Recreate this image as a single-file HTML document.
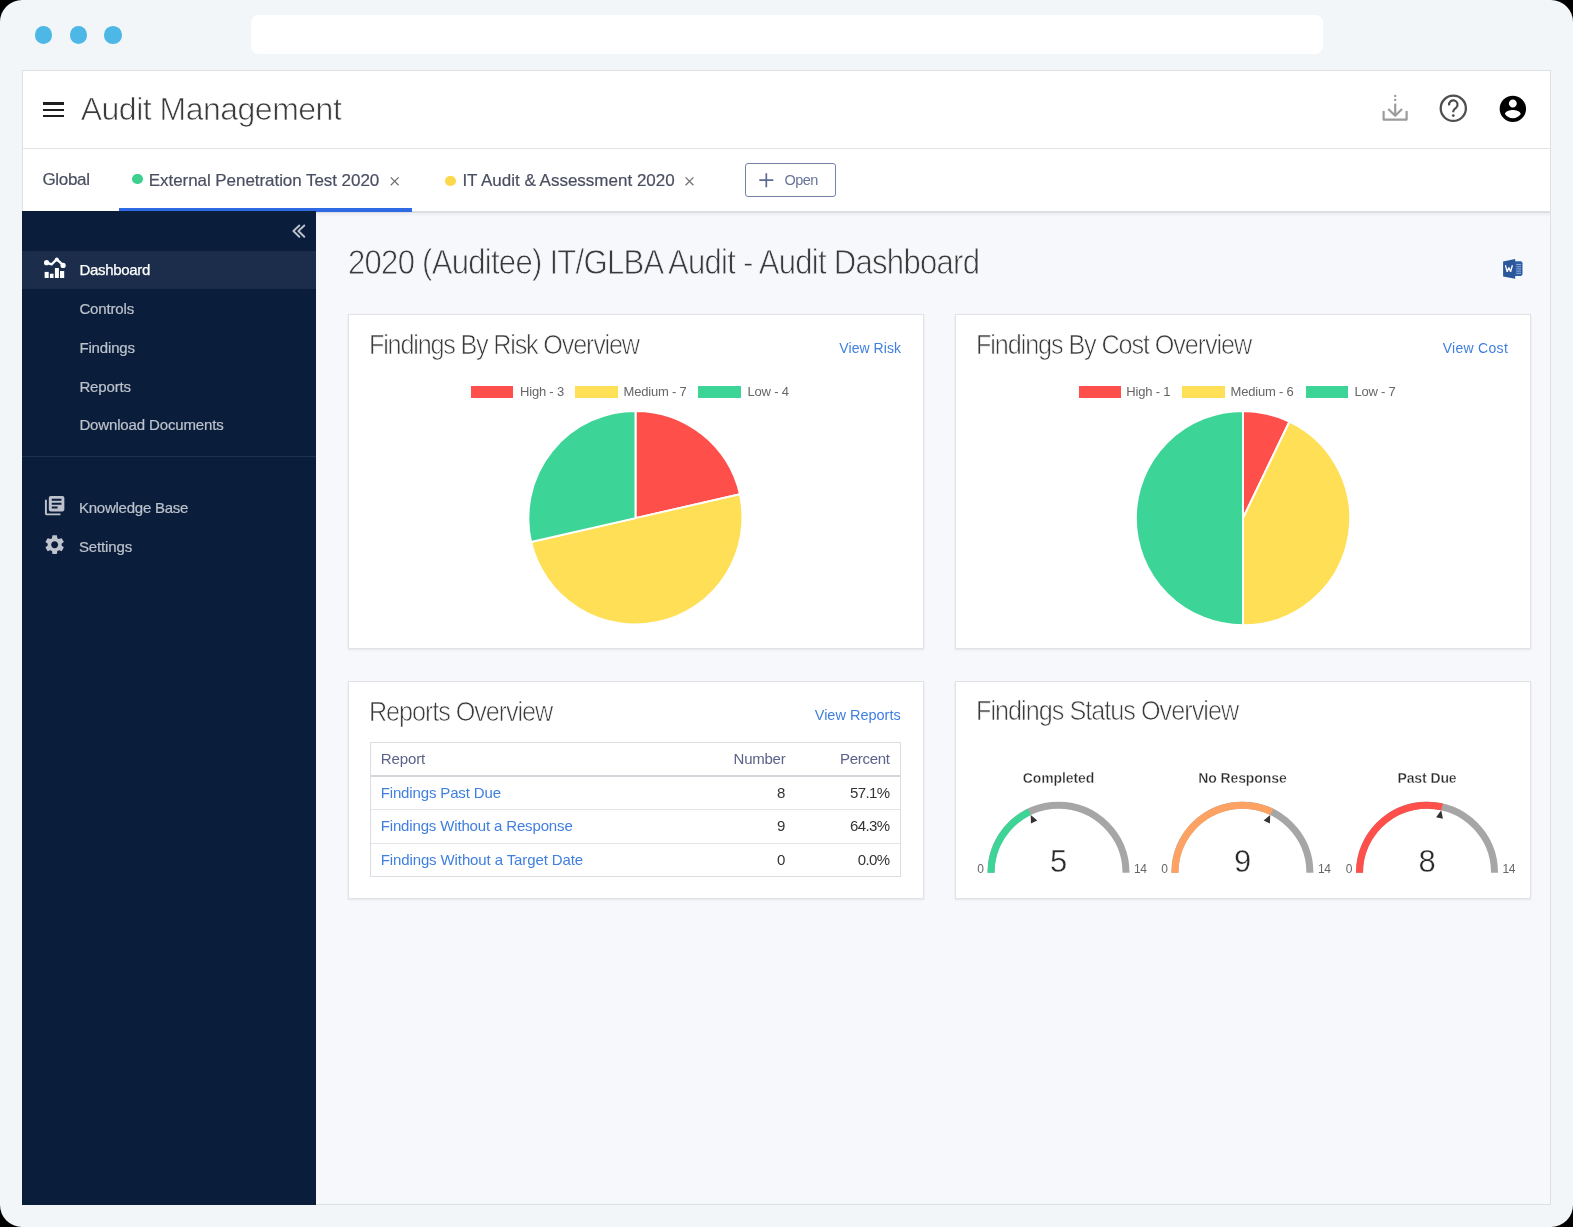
<!DOCTYPE html>
<html><head><meta charset="utf-8"><style>
*{box-sizing:border-box;margin:0;padding:0}
html,body{width:1573px;height:1227px;overflow:hidden;background:#000;font-family:"Liberation Sans",sans-serif}
.abs{position:absolute}
.t{position:absolute;white-space:nowrap;line-height:1}
svg{position:absolute;overflow:visible}
</style></head><body><div style="position:absolute;left:0;top:0;width:1573px;height:1227px;will-change:transform">
<div class="abs" style="left:0px;top:0px;width:1573px;height:1227px;background:#f2f6f9;border-radius:22px;"></div>
<div class="abs" style="left:34.7px;top:26.0px;width:17.6px;height:17.6px;border-radius:50%;background:#4db8e5"></div>
<div class="abs" style="left:69.5px;top:26.0px;width:17.6px;height:17.6px;border-radius:50%;background:#4db8e5"></div>
<div class="abs" style="left:104.4px;top:26.0px;width:17.6px;height:17.6px;border-radius:50%;background:#4db8e5"></div>
<div class="abs" style="left:250.5px;top:15.3px;width:1072px;height:38.6px;background:#fff;border-radius:8px;"></div>
<div class="abs" style="left:22px;top:70px;width:1529px;height:1135px;background:#f6f8fb;border:1px solid #dfe0e2;"></div>
<div class="abs" style="left:23px;top:71px;width:1527px;height:77px;background:#fff;"></div>
<div class="abs" style="left:23px;top:148px;width:1527px;height:1px;background:#e4e4e4;"></div>
<div class="abs" style="left:23px;top:149px;width:1527px;height:62px;background:#fff;"></div>
<div class="abs" style="left:23px;top:211px;width:1527px;height:1px;background:#e4e6ea;"></div>
<div class="abs" style="left:43.3px;top:102.4px;width:20.7px;height:2.2px;background:#1f1f1f;"></div>
<div class="abs" style="left:43.3px;top:108.60000000000001px;width:20.7px;height:2.2px;background:#1f1f1f;"></div>
<div class="abs" style="left:43.3px;top:114.9px;width:20.7px;height:2.2px;background:#1f1f1f;"></div>
<div class="t" style="top:92.90px;font-size:32px;color:#3a3a3a;font-weight:400;letter-spacing:-0.5px;left:80.70px;-webkit-text-stroke:0.7px #fff;">Audit Management</div>
<svg style="left:0;top:0" width="1573" height="1227" viewBox="0 0 1573 1227">
<g fill="none" stroke="#9b9b9b" stroke-width="2.2" stroke-linejoin="round">
<path d="M1383.6 110.9V119.6H1406.6V110.9"/>
<path d="M1395.2 103.6V115.5"/>
<path d="M1388.3 109L1395.2 115.8L1402 109"/>
</g>
<circle cx="1395.2" cy="95.9" r="1.2" fill="#9b9b9b"/>
<circle cx="1395.2" cy="99.9" r="1.2" fill="#9b9b9b"/>
<circle cx="1453.3" cy="108.3" r="12.6" fill="none" stroke="#4f4f4f" stroke-width="2.3"/>
</svg>
<svg style="left:0;top:0" width="1" height="1"><path d="M1449.1 105.3A4.25 4.25 0 1 1 1456.3 107.6L1454.4 109.3Q1453.3 110.3 1453.3 111.6V112.2" fill="none" stroke="#4a4a4a" stroke-width="2.1"/><circle cx="1453.3" cy="115.6" r="1.35" fill="#4a4a4a"/></svg>
<svg style="left:1497px;top:92.5px" width="31.7" height="31.7" viewBox="0 0 24 24"><path fill="#000" d="M12 2C6.48 2 2 6.48 2 12s4.48 10 10 10 10-4.48 10-10S17.52 2 12 2zm0 3c1.66 0 3 1.34 3 3s-1.34 3-3 3-3-1.34-3-3 1.34-3 3-3zm0 14.2c-2.5 0-4.71-1.28-6-3.22.03-1.99 4-3.08 6-3.08 1.99 0 5.97 1.09 6 3.08-1.29 1.94-3.5 3.22-6 3.22z"/></svg>
<div class="t" style="top:171.15px;font-size:17px;color:#4a4e61;font-weight:400;letter-spacing:-0.3px;left:42.40px;-webkit-text-stroke:0.2px #4a4e61;">Global</div>
<div class="abs" style="left:132.3px;top:173.7px;width:10.6px;height:10.6px;border-radius:50%;background:#3ccf8e"></div>
<div class="t" style="top:172.05px;font-size:17px;color:#4a4e61;font-weight:400;letter-spacing:-0.06px;left:148.80px;-webkit-text-stroke:0.2px #4a4e61;">External Penetration Test 2020</div>
<svg style="left:0;top:0" width="1" height="1"><path d="M390.8 177.4L398.6 185.2M398.6 177.4L390.8 185.2" stroke="#707070" stroke-width="1.25"/></svg>
<div class="abs" style="left:119px;top:208px;width:293px;height:3.4px;background:#2d6ae3;"></div>
<div class="abs" style="left:445.3px;top:175.6px;width:10.6px;height:10.6px;border-radius:50%;background:#fcd94a"></div>
<div class="t" style="top:172.05px;font-size:17px;color:#4a4e61;font-weight:400;left:462.40px;-webkit-text-stroke:0.2px #4a4e61;">IT Audit &amp; Assessment 2020</div>
<svg style="left:0;top:0" width="1" height="1"><path d="M685.6 177.4L693.4 185.2M693.4 177.4L685.6 185.2" stroke="#707070" stroke-width="1.25"/></svg>
<div class="abs" style="left:744.6px;top:162.7px;width:91.2px;height:34px;background:#fff;border:1.4px solid #7580a6;border-radius:3px;"></div>
<svg style="left:0;top:0" width="1" height="1"><path d="M766.3 173.2V187.3M759.3 180.2H773.3" stroke="#5f6a94" stroke-width="1.7" fill="none"/></svg>
<div class="t" style="top:172.88px;font-size:14.5px;color:#68739c;font-weight:400;letter-spacing:-0.5px;left:784.40px;">Open</div>
<div class="abs" style="left:22px;top:211px;width:294px;height:994px;background:#0a1e3b;"></div>
<div class="abs" style="left:316px;top:211px;width:1234px;height:2px;background:#dcdee3;"></div>
<div class="abs" style="left:316px;top:213px;width:1234px;height:4px;background:linear-gradient(#eceef2,#f6f8fb);"></div>
<div class="abs" style="left:316px;top:208px;width:96px;height:3.5px;background:#2d6ae3;"></div>
<div class="abs" style="left:22px;top:251px;width:294px;height:38px;background:#1b2d4b;"></div>
<div class="abs" style="left:22px;top:455.5px;width:294px;height:1.2px;background:#1d3150;"></div>
<svg style="left:0;top:0" width="1" height="1"><path d="M299.3 225.5L293.4 231L299.3 236.8M304.3 225.5L298.4 231L304.3 236.8" stroke="#bcc2ce" stroke-width="1.9" fill="none" stroke-linecap="round" stroke-linejoin="round"/></svg>
<svg style="left:0;top:0" width="1" height="1">
<path d="M46.45 262.7L51.6 264.4L56.8 259.3L63.1 265.2" stroke="#fff" stroke-width="2.3" fill="none" stroke-linejoin="round"/>
<circle cx="46.6" cy="262.7" r="2.6" fill="#fff"/><circle cx="56.8" cy="259.6" r="2" fill="#fff"/><circle cx="63.1" cy="265.4" r="2.6" fill="#fff"/>
<rect x="44.65" y="271.9" width="4.05" height="6.1" fill="#fff"/>
<rect x="49.9" y="273.7" width="3.6" height="4.3" fill="#fff"/>
<rect x="54.9" y="268" width="4" height="10" fill="#fff"/>
<rect x="60" y="271" width="4.2" height="7" fill="#fff"/>
</svg>
<div class="t" style="top:261.95px;font-size:15px;color:#fff;font-weight:400;letter-spacing:-0.3px;left:79.40px;-webkit-text-stroke:0.25px #fff;">Dashboard</div>
<div class="t" style="top:300.85px;font-size:15px;color:#bdc2cc;font-weight:400;letter-spacing:-0.15px;left:79.40px;-webkit-text-stroke:0.2px #bdc2cc;">Controls</div>
<div class="t" style="top:340.05px;font-size:15px;color:#bdc2cc;font-weight:400;letter-spacing:-0.15px;left:79.40px;-webkit-text-stroke:0.2px #bdc2cc;">Findings</div>
<div class="t" style="top:378.75px;font-size:15px;color:#bdc2cc;font-weight:400;letter-spacing:-0.15px;left:79.40px;-webkit-text-stroke:0.2px #bdc2cc;">Reports</div>
<div class="t" style="top:417.45px;font-size:15px;color:#bdc2cc;font-weight:400;letter-spacing:-0.14px;left:79.40px;-webkit-text-stroke:0.2px #bdc2cc;">Download Documents</div>
<svg style="left:43.06px;top:493.76px" width="23.3" height="23.3" viewBox="0 0 24 24"><path fill="#bdc2cc" d="M4 6H2v14c0 1.1.9 2 2 2h14v-2H4V6zm16-4H8c-1.1 0-2 .9-2 2v12c0 1.1.9 2 2 2h12c1.1 0 2-.9 2-2V4c0-1.1-.9-2-2-2zm-1 9H9V9h10v2zm-4 4H9v-2h6v2zm4-8H9V5h10v2z"/></svg>
<div class="t" style="top:499.75px;font-size:15px;color:#bdc2cc;font-weight:400;letter-spacing:-0.25px;left:79.00px;-webkit-text-stroke:0.2px #bdc2cc;">Knowledge Base</div>
<svg style="left:43.16px;top:532.9px" width="23.3" height="23.3" viewBox="0 0 24 24"><path fill="#bdc2cc" d="M19.14 12.94c.04-.3.06-.61.06-.94 0-.32-.02-.64-.07-.94l2.03-1.58c.18-.14.23-.41.12-.61l-1.92-3.32c-.12-.22-.37-.29-.59-.22l-2.39.96c-.5-.38-1.03-.7-1.62-.94l-.36-2.54c-.04-.24-.24-.41-.48-.41h-3.84c-.24 0-.43.17-.47.41l-.36 2.54c-.59.24-1.130.57-1.62.94l-2.39-.96c-.22-.08-.47 0-.59.22L2.74 8.87c-.12.21-.08.47.12.61l2.03 1.58c-.05.3-.09.63-.09.94s.02.64.07.94l-2.03 1.58c-.18.14-.23.41-.12.61l1.92 3.32c.12.22.37.29.59.22l2.39-.96c.5.38 1.03.7 1.62.94l.36 2.54c.05.24.24.41.48.41h3.84c.24 0 .44-.17.47-.41l.36-2.54c.59-.24 1.13-.56 1.62-.94l2.39.96c.22.08.47 0 .59-.22l1.92-3.32c.12-.22.07-.47-.12-.61l-2.01-1.58zM12 15.6c-1.98 0-3.6-1.62-3.6-3.6s1.62-3.6 3.6-3.6 3.6 1.62 3.6 3.6-1.62 3.6-3.6 3.6z"/></svg>
<div class="t" style="top:538.65px;font-size:15px;color:#bdc2cc;font-weight:400;letter-spacing:-0.15px;left:79.00px;-webkit-text-stroke:0.2px #bdc2cc;">Settings</div>
<div class="t" style="top:245.28px;font-size:34.5px;color:#3a3a3a;font-weight:400;letter-spacing:-0.805px;transform:scaleX(0.9);transform-origin:left top;left:348.20px;-webkit-text-stroke:0.8px #f6f8fb;">2020 (Auditee) IT/GLBA Audit - Audit Dashboard</div>
<svg style="left:0;top:0" width="1" height="1">
<path d="M1515 261.3H1520.5Q1522.5 261.3 1522.5 263.3V273.9Q1522.5 275.9 1520.5 275.9H1515Z" fill="#2f5fa8"/>
<path d="M1516.3 264.5H1521M1516.3 266.7H1521M1516.3 268.9H1521M1516.3 271.1H1521M1516.3 273.3H1521" stroke="#9fb6dd" stroke-width="0.9"/>
<path d="M1503.1 261.4L1515.2 258.9V278.8L1503.1 276.4Z" fill="#2b579a"/>
<path d="M1505.4 265.3L1507.2 271.7L1508.9 267.6L1510.6 271.7L1512.4 265.3" stroke="#fff" stroke-width="1.3" fill="none" stroke-linejoin="bevel"/>
</svg>
<div class="abs" style="left:348px;top:314px;width:576px;height:335px;background:#fff;border:1px solid #e0e2e6;box-shadow:0 1px 2px rgba(0,0,0,0.08);"></div>
<div class="t" style="top:330.60px;font-size:28px;color:#3a3a3a;font-weight:400;letter-spacing:-1.329px;transform:scaleX(0.9);transform-origin:left top;left:368.90px;-webkit-text-stroke:0.7px #fff;">Findings By Risk Overview</div>
<div class="t" style="top:341.10px;font-size:14px;color:#3f7fe0;font-weight:400;letter-spacing:0.05px;left:-99.00px;width:1000px;text-align:right;">View Risk</div>
<div class="abs" style="left:470.8px;top:386px;width:42.3px;height:12.2px;background:#fe4f4b;"></div>
<div class="t" style="top:385.45px;font-size:13px;color:#666;font-weight:400;letter-spacing:-0.2px;left:520.00px;">High - 3</div>
<div class="abs" style="left:575.3px;top:386px;width:42.3px;height:12.2px;background:#fedf55;"></div>
<div class="t" style="top:385.45px;font-size:13px;color:#666;font-weight:400;letter-spacing:-0.2px;left:623.50px;">Medium - 7</div>
<div class="abs" style="left:698.3px;top:386px;width:42.3px;height:12.2px;background:#3dd497;"></div>
<div class="t" style="top:385.45px;font-size:13px;color:#666;font-weight:400;letter-spacing:-0.2px;left:747.50px;">Low - 4</div>
<svg style="left:0;top:0" width="1" height="1"><path d="M635.5 518.1L635.50 410.90A107.2 107.2 0 0 1 740.01 494.25Z" fill="#fe4f4b" stroke="#fff" stroke-width="2" stroke-linejoin="round"/><path d="M635.5 518.1L740.01 494.25A107.2 107.2 0 0 1 530.99 541.95Z" fill="#fedf55" stroke="#fff" stroke-width="2" stroke-linejoin="round"/><path d="M635.5 518.1L530.99 541.95A107.2 107.2 0 0 1 635.50 410.90Z" fill="#3dd497" stroke="#fff" stroke-width="2" stroke-linejoin="round"/></svg>
<div class="abs" style="left:955px;top:314px;width:576px;height:335px;background:#fff;border:1px solid #e0e2e6;box-shadow:0 1px 2px rgba(0,0,0,0.08);"></div>
<div class="t" style="top:330.60px;font-size:28px;color:#3a3a3a;font-weight:400;letter-spacing:-1.218px;transform:scaleX(0.9);transform-origin:left top;left:976.10px;-webkit-text-stroke:0.7px #fff;">Findings By Cost Overview</div>
<div class="t" style="top:341.10px;font-size:14px;color:#3f7fe0;font-weight:400;letter-spacing:0.3px;left:508.10px;width:1000px;text-align:right;">View Cost</div>
<div class="abs" style="left:1078.6px;top:386px;width:42.3px;height:12.2px;background:#fe4f4b;"></div>
<div class="t" style="top:385.45px;font-size:13px;color:#666;font-weight:400;letter-spacing:-0.2px;left:1126.30px;">High - 1</div>
<div class="abs" style="left:1182.4px;top:386px;width:42.3px;height:12.2px;background:#fedf55;"></div>
<div class="t" style="top:385.45px;font-size:13px;color:#666;font-weight:400;letter-spacing:-0.2px;left:1230.60px;">Medium - 6</div>
<div class="abs" style="left:1305.8px;top:386px;width:42.3px;height:12.2px;background:#3dd497;"></div>
<div class="t" style="top:385.45px;font-size:13px;color:#666;font-weight:400;letter-spacing:-0.2px;left:1354.40px;">Low - 7</div>
<svg style="left:0;top:0" width="1" height="1"><path d="M1243 518.1L1243.00 410.90A107.2 107.2 0 0 1 1289.51 421.52Z" fill="#fe4f4b" stroke="#fff" stroke-width="2" stroke-linejoin="round"/><path d="M1243 518.1L1289.51 421.52A107.2 107.2 0 0 1 1243.00 625.30Z" fill="#fedf55" stroke="#fff" stroke-width="2" stroke-linejoin="round"/><path d="M1243 518.1L1243.00 625.30A107.2 107.2 0 0 1 1243.00 410.90Z" fill="#3dd497" stroke="#fff" stroke-width="2" stroke-linejoin="round"/></svg>
<div class="abs" style="left:348px;top:681px;width:576px;height:218px;background:#fff;border:1px solid #e0e2e6;box-shadow:0 1px 2px rgba(0,0,0,0.08);"></div>
<div class="t" style="top:697.70px;font-size:28px;color:#3a3a3a;font-weight:400;letter-spacing:-1.193px;transform:scaleX(0.9);transform-origin:left top;left:368.50px;-webkit-text-stroke:0.7px #fff;">Reports Overview</div>
<div class="t" style="top:708.07px;font-size:14.5px;color:#3f7fe0;font-weight:400;left:-99.30px;width:1000px;text-align:right;">View Reports</div>
<div class="abs" style="left:370px;top:742px;width:531px;height:135px;background:#fff;border:1px solid #dcdde3;"></div>
<div class="abs" style="left:371px;top:775.3px;width:529px;height:2px;background:#d5d6db;"></div>
<div class="abs" style="left:371px;top:809px;width:529px;height:1.3px;background:#e4e5e8;"></div>
<div class="abs" style="left:371px;top:842.5px;width:529px;height:1.3px;background:#e4e5e8;"></div>
<div class="t" style="top:751.35px;font-size:15px;color:#5b6289;font-weight:400;letter-spacing:-0.1px;left:380.70px;">Report</div>
<div class="t" style="top:750.85px;font-size:15px;color:#5b6289;font-weight:400;letter-spacing:-0.25px;left:-214.60px;width:1000px;text-align:right;">Number</div>
<div class="t" style="top:750.85px;font-size:15px;color:#5b6289;font-weight:400;letter-spacing:-0.3px;left:-110.40px;width:1000px;text-align:right;">Percent</div>
<div class="t" style="top:784.75px;font-size:15px;color:#3f7fe0;font-weight:400;letter-spacing:-0.14px;left:380.70px;">Findings Past Due</div>
<div class="t" style="top:784.75px;font-size:15px;color:#333;font-weight:400;left:-214.60px;width:1000px;text-align:right;">8</div>
<div class="t" style="top:784.75px;font-size:15px;color:#333;font-weight:400;letter-spacing:-0.6px;left:-110.40px;width:1000px;text-align:right;">57.1%</div>
<div class="t" style="top:818.45px;font-size:15px;color:#3f7fe0;font-weight:400;letter-spacing:-0.15px;left:380.70px;">Findings Without a Response</div>
<div class="t" style="top:818.45px;font-size:15px;color:#333;font-weight:400;left:-214.60px;width:1000px;text-align:right;">9</div>
<div class="t" style="top:818.45px;font-size:15px;color:#333;font-weight:400;letter-spacing:-0.6px;left:-110.40px;width:1000px;text-align:right;">64.3%</div>
<div class="t" style="top:851.95px;font-size:15px;color:#3f7fe0;font-weight:400;letter-spacing:-0.11px;left:380.70px;">Findings Without a Target Date</div>
<div class="t" style="top:851.95px;font-size:15px;color:#333;font-weight:400;left:-214.60px;width:1000px;text-align:right;">0</div>
<div class="t" style="top:851.95px;font-size:15px;color:#333;font-weight:400;letter-spacing:-0.6px;left:-110.40px;width:1000px;text-align:right;">0.0%</div>
<div class="abs" style="left:955px;top:681px;width:576px;height:218px;background:#fff;border:1px solid #e0e2e6;box-shadow:0 1px 2px rgba(0,0,0,0.08);"></div>
<div class="t" style="top:696.80px;font-size:28px;color:#3a3a3a;font-weight:400;letter-spacing:-1.092px;transform:scaleX(0.9);transform-origin:left top;left:976.00px;-webkit-text-stroke:0.7px #fff;">Findings Status Overview</div>
<svg style="left:0;top:0" width="1" height="1"><path d="M991.0 872.7A67.5 67.5 0 0 1 1126.0 872.7" stroke="#a6a6a6" stroke-width="7" fill="none"/><path d="M991.0 872.7A67.5 67.5 0 0 1 1029.21 811.88" stroke="#3dd497" stroke-width="7" fill="none"/><path d="M1030.73 815.04L1037.27 820.55L1030.96 823.58Z" fill="#333"/></svg>
<div class="t" style="top:770.60px;font-size:14px;color:#2a2a2a;font-weight:700;letter-spacing:-0.1px;left:558.50px;width:1000px;text-align:center;-webkit-text-stroke:0.35px #fff;">Completed</div>
<div class="t" style="top:846.15px;font-size:31px;color:#2a2a2a;font-weight:400;left:558.70px;width:1000px;text-align:center;-webkit-text-stroke:0.4px #fff;">5</div>
<div class="t" style="top:862.50px;font-size:12px;color:#666;font-weight:400;left:977.30px;">0</div>
<div class="t" style="top:862.50px;font-size:12px;color:#666;font-weight:400;letter-spacing:-0.3px;left:1134.00px;">14</div>
<svg style="left:0;top:0" width="1" height="1"><path d="M1174.9 872.7A67.5 67.5 0 0 1 1309.9 872.7" stroke="#a6a6a6" stroke-width="7" fill="none"/><path d="M1174.9 872.7A67.5 67.5 0 0 1 1271.69 811.88" stroke="#fea263" stroke-width="7" fill="none"/><path d="M1270.17 815.04L1269.94 823.58L1263.63 820.55Z" fill="#333"/></svg>
<div class="t" style="top:770.60px;font-size:14px;color:#2a2a2a;font-weight:700;letter-spacing:-0.1px;left:742.40px;width:1000px;text-align:center;-webkit-text-stroke:0.35px #fff;">No Response</div>
<div class="t" style="top:846.15px;font-size:31px;color:#2a2a2a;font-weight:400;left:742.60px;width:1000px;text-align:center;-webkit-text-stroke:0.4px #fff;">9</div>
<div class="t" style="top:862.50px;font-size:12px;color:#666;font-weight:400;left:1161.20px;">0</div>
<div class="t" style="top:862.50px;font-size:12px;color:#666;font-weight:400;letter-spacing:-0.3px;left:1317.90px;">14</div>
<svg style="left:0;top:0" width="1" height="1"><path d="M1359.5 872.7A67.5 67.5 0 0 1 1494.5 872.7" stroke="#a6a6a6" stroke-width="7" fill="none"/><path d="M1359.5 872.7A67.5 67.5 0 0 1 1442.02 806.89" stroke="#fe4f4b" stroke-width="7" fill="none"/><path d="M1441.24 810.30L1442.92 818.69L1436.09 817.13Z" fill="#333"/></svg>
<div class="t" style="top:770.60px;font-size:14px;color:#2a2a2a;font-weight:700;letter-spacing:-0.1px;left:927.00px;width:1000px;text-align:center;-webkit-text-stroke:0.35px #fff;">Past Due</div>
<div class="t" style="top:846.15px;font-size:31px;color:#2a2a2a;font-weight:400;left:927.20px;width:1000px;text-align:center;-webkit-text-stroke:0.4px #fff;">8</div>
<div class="t" style="top:862.50px;font-size:12px;color:#666;font-weight:400;left:1345.80px;">0</div>
<div class="t" style="top:862.50px;font-size:12px;color:#666;font-weight:400;letter-spacing:-0.3px;left:1502.50px;">14</div>
</div></body></html>
